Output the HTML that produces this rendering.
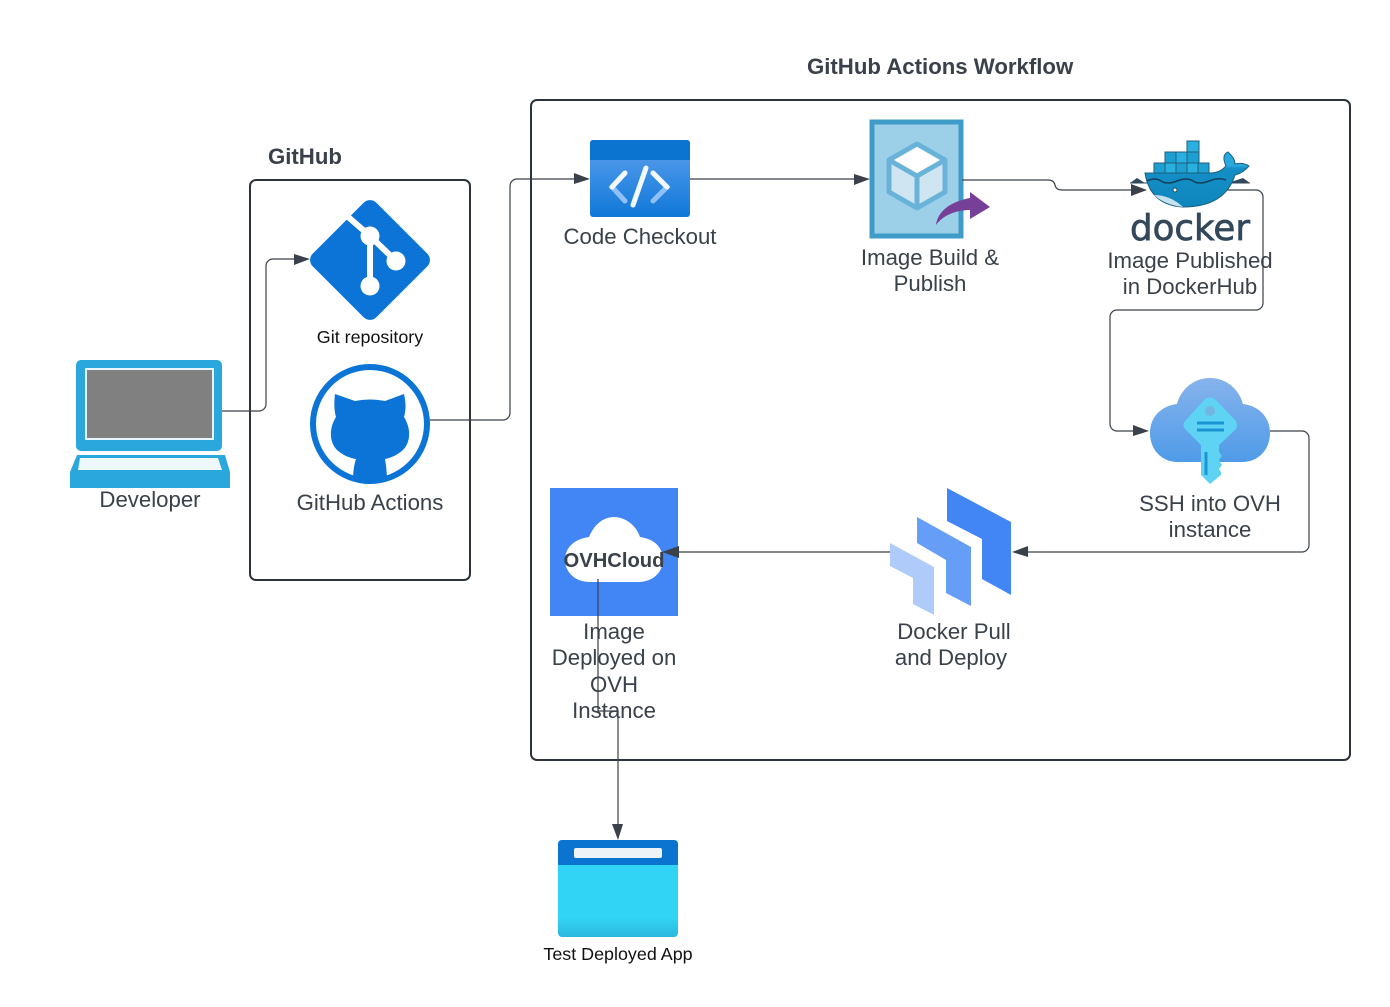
<!DOCTYPE html>
<html><head><meta charset="utf-8"><style>
html,body{margin:0;padding:0;background:#fff}
svg{display:block}
text{font-family:"Liberation Sans",sans-serif;fill:#3a414a;font-size:22.2px;text-anchor:middle}
.h{font-weight:bold;text-anchor:start}
.s{font-size:17.9px;fill:#111}
.c{fill:none;stroke:#3a414a;stroke-width:1.2}
.a{fill:#3a414a}
</style></head><body>
<svg width="1390" height="1007" viewBox="0 0 1390 1007" xmlns="http://www.w3.org/2000/svg">
<defs>
<linearGradient id="g1" x1="0" y1="0" x2="0" y2="1"><stop offset="0" stop-color="#5ea0ef"/><stop offset="1" stop-color="#0f78d8"/></linearGradient>
<linearGradient id="g2" x1="0" y1="0" x2="0" y2="1"><stop offset="0" stop-color="#86b3ec"/><stop offset="1" stop-color="#4f9be8"/></linearGradient>
<linearGradient id="g3" x1="0" y1="0" x2="0" y2="1"><stop offset="0" stop-color="#32d4f5"/><stop offset=".8" stop-color="#32d4f5"/><stop offset="1" stop-color="#2bb8dd"/></linearGradient>
<linearGradient id="g4" x1="0" y1="0" x2="0" y2="1"><stop offset="0" stop-color="#28a8dc"/><stop offset=".25" stop-color="#28a8dc"/><stop offset=".3" stop-color="#148fc6"/><stop offset="1" stop-color="#0e86bd"/></linearGradient>
</defs>
<rect width="1390" height="1007" fill="#fff"/>

<text class="h" x="268" y="164">GitHub</text>
<text class="h" x="807" y="74">GitHub Actions Workflow</text>
<rect x="250" y="180" width="220" height="400" rx="6" fill="none" stroke="#2c333a" stroke-width="2"/>
<rect x="531" y="100" width="819" height="660" rx="6" fill="none" stroke="#2c333a" stroke-width="2"/>

<!-- Laptop -->
<rect x="76" y="360" width="146" height="91" rx="5" fill="#2aa8de"/>
<rect x="86" y="369" width="127" height="70" fill="#808080" stroke="#e8f6fb" stroke-width="2"/>
<path d="M77 455H225L230 472V488H70V472Z" fill="#2aa8de"/>
<path d="M80 458H218L222 470H78Z" fill="#eef8fc"/>
<text x="150" y="507">Developer</text>

<!-- Git -->
<rect x="325" y="215" width="90" height="90" rx="9" transform="rotate(45 370 260)" fill="#0b74d6"/>
<path d="M347 216L370 236L396 261M370 236V286" fill="none" stroke="#fff" stroke-width="6"/>
<circle cx="370" cy="236" r="9.5" fill="#fff"/><circle cx="396" cy="261" r="9.5" fill="#fff"/><circle cx="370" cy="286" r="9.5" fill="#fff"/>
<text class="s" x="370" y="343">Git repository</text>

<!-- GitHub Actions -->
<circle cx="370" cy="424" r="57" fill="#fff" stroke="#0b74d6" stroke-width="6"/>
<path d="M335 394L355 401Q370 398 385 401L404 394C406 403 406 410 404 417C411 428 411 442 403 450C396 456 390 458 385 459C386 465 387 472 387 481Q370 487 353 481C353 472 354 465 356 459C350 458 344 456 337 450C329 442 329 428 336 417C334 410 334 403 335 394Z" fill="#0b74d6"/>
<text x="370" y="510">GitHub Actions</text>

<!-- Code Checkout -->
<rect x="590" y="140" width="100" height="77" rx="3" fill="url(#g1)"/>
<path d="M590 160V143a3 3 0 0 1 3-3h94a3 3 0 0 1 3 3v17Z" fill="#0b74d0"/>
<path d="M625 173L612 187L625 201M653 173L667 187L653 201" fill="none" stroke="#8fc0f7" stroke-width="5" stroke-linecap="round"/>
<path d="M625 173L612 187M653 173L667 187M646 168L633 205" fill="none" stroke="#f2f8fe" stroke-width="5" stroke-linecap="round"/>
<text x="640" y="244">Code Checkout</text>

<!-- Image build -->
<rect x="872" y="122" width="89" height="114" fill="#9bd0e8" stroke="#3f9cc8" stroke-width="5"/>
<path d="M917 144L945 160V192L917 208L889 192V160Z" fill="#cfe5f2" stroke="#69b3d9" stroke-width="5" stroke-linejoin="round"/>
<path d="M917 144L945 160L917 176L889 160Z" fill="#fff" stroke="#69b3d9" stroke-width="5" stroke-linejoin="round"/>
<path d="M917 176V208" stroke="#69b3d9" stroke-width="5"/>
<path d="M936 225C938 209 954 201 970 198V192L990 207L970 219V210C958 210 944 214 936 225Z" fill="#763f98"/>
<text x="930" y="265">Image Build &amp;</text>
<text x="930" y="291">Publish</text>

<!-- Connectors -->
<path class="c" d="M222 411H259a7 7 0 0 0 7-7V266a7 7 0 0 1 7-7H296"/>
<path class="a" d="M294 254L310 259L294 265Z"/>
<path class="c" d="M430 420H503a7 7 0 0 0 7-7V186a7 7 0 0 1 7-7H576"/>
<path class="a" d="M574 173L590 179L574 184Z"/>
<path class="c" d="M690 179H856"/>
<path class="a" d="M854 174L870 179L854 185Z"/>
<path class="c" d="M962 180H1048Q1054 180 1055 185Q1056 190 1062 190H1134"/>
<path class="c" d="M1226 190H1256a7 7 0 0 1 7 7V303a7 7 0 0 1-7 7H1117a7 7 0 0 0-7 7V424a7 7 0 0 0 7 7H1136"/>
<path class="a" d="M1133 425L1149 431L1133 436Z"/>
<path class="c" d="M1270 431H1302a7 7 0 0 1 7 7V545a7 7 0 0 1-7 7H1026"/>
<path class="a" d="M1028 546L1012 552L1028 557Z"/>
<path class="c" d="M890 552H678"/>

<!-- Docker -->
<path d="M1130 183L1137 178L1145 183ZM1228 183L1243 178L1250 183Z" fill="#33485a"/>
<path d="M1130 183H1250" stroke="#33485a" stroke-width="1"/>
<g fill="#1d9fd2" stroke="#1f5f80" stroke-width="1">
<rect x="1187" y="141" width="12" height="11" fill="#29b0e0"/><rect x="1165" y="152" width="11" height="11"/><rect x="1176" y="152" width="11" height="11" fill="#29b0e0"/><rect x="1187" y="152" width="12" height="11"/>
<rect x="1154" y="163" width="11" height="10"/><rect x="1165" y="163" width="11" height="10" fill="#29b0e0"/><rect x="1176" y="163" width="11" height="10"/><rect x="1187" y="163" width="11" height="10" fill="#29b0e0"/><rect x="1198" y="163" width="11" height="10"/>
</g>
<path d="M1145 173H1210Q1220 173 1226 166Q1221 155 1228 152Q1235 158 1235 164Q1243 162 1249 166Q1243 173 1235 175Q1225 207 1183 207Q1150 205 1145 173Z" fill="url(#g4)" stroke="#1d5f80" stroke-width="1"/>
<path d="M1154 195Q1170 195 1183 207Q1165 205 1154 195Z" fill="#c5e2ee"/>
<circle cx="1175" cy="190" r="2" fill="#fff" stroke="#1d4f6a"/>
<path d="M1147 181Q1155 177 1161 181T1177 181T1193 181T1209 181T1226 180" fill="none" stroke="#163f58" stroke-width="1.5"/>
<path class="a" d="M1131 184L1147 190L1131 196Z"/>
<text x="1190" y="240" textLength="120" lengthAdjust="spacingAndGlyphs" style="font-family:'DejaVu Sans',sans-serif;font-size:36px;fill:#33485a;stroke:#33485a;stroke-width:.7">docker</text>
<text x="1190" y="268">Image Published</text>
<text x="1190" y="294">in DockerHub</text>

<!-- SSH -->
<path d="M1178 462C1161 462 1150 449 1150 433C1150 417 1161 406 1177 404C1181 389 1194 378 1210 378C1226 378 1239 389 1243 404C1259 406 1270 417 1270 433C1270 449 1259 462 1242 462Z" fill="url(#g2)"/>
<path d="M1204 400Q1210 395 1216 400L1235 420Q1239 425 1235 430L1219 445V452L1222 456L1219 460L1222 465L1219 469L1221 472V475L1210 484L1201 475V445L1186 430Q1181 425 1186 420Z" fill="#5fd3f3"/>
<circle cx="1210" cy="411" r="5" fill="#74b6e2"/>
<path d="M1197 423H1224M1197 430H1224M1206 452V475" stroke="#1b95d5" stroke-width="3" fill="none"/>
<text x="1210" y="511">SSH into OVH</text>
<text x="1210" y="537">instance</text>

<!-- Docker Pull -->
<path d="M947 488L1011 522V595L982 579V539L947 521Z" fill="#4285f4"/>
<path d="M917 517L971 547V606L946 593V560L917 543Z" fill="#669df6"/>
<path d="M890 543L934 567V615L913 604V578L890 566Z" fill="#aecbfa"/>
<text x="954" y="639">Docker Pull</text>
<text x="951" y="665">and Deploy</text>

<!-- OVH -->
<rect x="550" y="488" width="128" height="128" fill="#4285f4"/>
<path d="M590 582C574 582 565 571 565 560C565 548 574 539 589 537C594 525 603 517 614 517C625 517 636 525 640 537C655 539 663 548 663 560C663 571 654 582 638 582Z" fill="#fff"/>
<text x="614" y="567" style="font-weight:bold;font-size:20.2px">OVHCloud</text>
<path class="a" d="M679 546L662 552L679 558Z"/>
<text x="614" y="639">Image</text>
<text x="614" y="665">Deployed on</text>
<text x="614" y="692">OVH</text>
<text x="614" y="718">Instance</text>
<path class="c" d="M598 579V711H618V826"/>
<path class="a" d="M612 824L618 840L623 824Z"/>

<!-- Test app -->
<rect x="558" y="840" width="120" height="97" rx="4" fill="url(#g3)"/>
<path d="M558 865V844a4 4 0 0 1 4-4H674a4 4 0 0 1 4 4V865Z" fill="#0b74d0"/>
<rect x="574" y="848" width="88" height="10" rx="2" fill="#eef3f7"/>
<text class="s" x="618" y="960">Test Deployed App</text>
</svg>
</body></html>
